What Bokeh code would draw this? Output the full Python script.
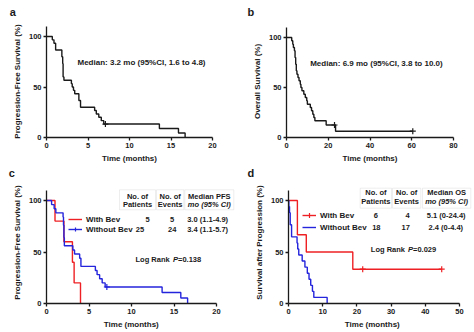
from bokeh.plotting import figure
from bokeh.models import Range1d, FixedTicker, Label, BoxAnnotation, Legend, LegendItem, ColumnDataSource, Title
from bokeh.layouts import column, row
from bokeh.embed import file_html
from bokeh.resources import INLINE

FONT = "Liberation Sans"
RED = "#ee2024"
BLUE = "#2424dc"
INK = "#1a1a1a"
GRAYBOX = "#c8c8c8"

# ---------------- data ----------------
# a: progression-free survival, all patients
a_time = [0, 0.7, 0.9, 1.1, 1.85, 1.95, 2.0, 2.1, 3.0, 3.1, 3.25, 3.4, 3.9, 4.1, 5.8, 6.0, 6.3, 6.6, 6.9, 13.6, 15.9, 16.7]
a_surv = [100, 96.7, 93.3, 86.7, 80, 73.3, 60, 56.7, 53.3, 50, 46.7, 43.3, 36.7, 30, 26.7, 23.3, 20, 16.7, 13.3, 8.9, 4.4, 0]
a_cens_t = [7.1]
a_cens_s = [13.3]

# b: overall survival, all patients
b_time = [0, 2.5, 3.0, 3.3, 3.8, 4.1, 4.4, 4.7, 5.0, 5.5, 6.0, 6.6, 6.9, 7.4, 8.3, 9.0, 9.7, 10.0, 11.4, 12.0, 12.6, 13.1, 13.6, 19.0, 23.5, 60.5]
b_surv = [100, 96.7, 93.3, 90, 86.7, 80, 73.3, 66.7, 63.3, 60, 56.7, 53.3, 50, 46.7, 43.3, 40, 36.7, 33.3, 30, 26.7, 23.3, 20, 16.7, 12.5, 6.3, 6.3]
b_cens_t = [23.0, 60.5]
b_cens_s = [12.5, 6.3]

# c: PFS by bevacizumab
c_red_time = [0, 1.0, 2.05, 3.05, 3.25, 4.0]
c_red_surv = [100, 80, 60, 40, 20, 0]
c_red_cens_t = []
c_red_cens_s = []
c_blue_time = [0, 0.6, 0.9, 1.1, 1.95, 2.0, 2.05, 2.1, 3.1, 3.3, 3.9, 4.05, 5.75, 5.95, 6.25, 6.55, 6.9, 13.6, 15.8, 16.6]
c_blue_surv = [100, 96, 92, 88, 84, 76, 64, 56, 52, 48, 44, 36, 32, 28, 24, 20, 16, 10.7, 5.3, 0]
c_blue_cens_t = [7.1]
c_blue_cens_s = [16]

# d: survival after progression by bevacizumab
d_red_time = [0, 2.6, 5.2, 18.8, 44.8]
d_red_surv = [100, 66.7, 50, 33.3, 33.3]
d_red_cens_t = [21.7, 44.8]
d_red_cens_s = [33.3, 33.3]
d_blue_time = [0, 0.1, 0.3, 0.5, 0.9, 2.5, 2.7, 3.0, 4.0, 4.8, 5.5, 6.0, 6.5, 7.0, 7.4, 11.3]
d_blue_surv = [100, 94.1, 88.2, 76.5, 64.7, 58.8, 52.9, 47.1, 41.2, 35.3, 29.4, 23.5, 17.6, 11.8, 5.9, 0]
d_blue_cens_t = []
d_blue_cens_s = []

series_labels = ["With Bev", "Without Bev"]
c_table = [["5", "5", "3.0 (1.1-4.9)"], ["25", "24", "3.4 (1.1-5.7)"]]
d_table = [["6", "4", "5.1 (0-24.4)"], ["18", "17", "2.4 (0-4.4)"]]
c_pvalue = "=0.138"
d_pvalue = "=0.029"

W, H = 237, 166

# panel geometry (pixels inside each 237x166 panel):
# x0/x1 = pixel of x=0 / x=xmax (axis end), y0/y100 = pixel of y=0 / y=100, T = frame top,
# xlab = left edge of x title, letter = left edge of panel letter
GEO = {
    "a": dict(x0=46, x1=212, xmax=20, y0=137, y100=36, T=25, xticks=[0, 5, 10, 15, 20],
              xlab=101.5, letter=9.3),
    "b": dict(x0=49, x1=216, xmax=80, y0=137, y100=37, T=25, xticks=[0, 20, 40, 60, 80],
              xlab=105, letter=10),
    "c": dict(x0=46, x1=216, xmax=20, y0=137, y100=34, T=15, xticks=[0, 5, 10, 15, 20],
              xlab=103.3, letter=8.3),
    "d": dict(x0=51, x1=222, xmax=50, y0=137, y100=34, T=15, xticks=[0, 10, 20, 30, 40, 50],
              xlab=107.3, letter=10),
}
FRAME_RIGHT = 237
LETTER_H = 12.3   # approx. text height of the 11px panel letters


def make_fig(key, ytitle, letter):
    g = GEO[key]
    ymax = 100.0 * (g["y0"] - g["T"]) / (g["y0"] - g["y100"])
    xend = g["xmax"] * (FRAME_RIGHT - g["x0"]) / (g["x1"] - g["x0"])
    p = figure(width=W, height=H, x_range=Range1d(0, xend), y_range=Range1d(0, ymax),
               output_backend="svg", toolbar_location=None,
               min_border_left=g["x0"], min_border_right=W - FRAME_RIGHT,
               min_border_top=g["T"], min_border_bottom=H - g["y0"])
    p.outline_line_color = None
    p.grid.visible = False
    p.xaxis.ticker = FixedTicker(ticks=g["xticks"])
    p.yaxis.ticker = FixedTicker(ticks=[0, 50, 100])
    p.xaxis.bounds = (0, g["xmax"])
    p.yaxis.bounds = (0, 110)
    for ax in (p.xaxis[0], p.yaxis[0]):
        ax.axis_line_width = 1.3
        ax.axis_line_color = INK
        ax.major_tick_line_width = 1.3
        ax.major_tick_line_color = INK
        ax.major_tick_out = 3
        ax.major_tick_in = 0
        ax.minor_tick_out = 0
        ax.minor_tick_in = 0
        ax.major_label_text_font = FONT
        ax.major_label_text_font_style = "bold"
        ax.major_label_text_font_size = "7.5px"
        ax.major_label_text_color = INK
        ax.major_label_standoff = 2
        ax.axis_label_text_font = FONT
        ax.axis_label_text_font_style = "bold"
        ax.axis_label_text_font_size = "8px"
        ax.axis_label_text_color = INK
        ax.axis_label_standoff = 4
    p.yaxis.axis_label = ytitle
    # x title placed under the drawn axis (the frame runs further right than the axis)
    p.add_layout(Title(text="Time (months)", align="left", offset=g["xlab"] - g["x0"], standoff=3,
                       text_font=FONT, text_font_size="8px", text_font_style="bold",
                       text_color=INK), "below")
    p.add_layout(Title(text=letter, align="left", offset=g["letter"] - g["x0"],
                       standoff=max(g["T"] - 2 - LETTER_H, 0), vertical_align="top",
                       text_font=FONT, text_font_size="11px", text_font_style="bold",
                       text_color=INK), "above")
    return p


def to_data(key, px, py):
    g = GEO[key]
    x = (px - g["x0"]) / (g["x1"] - g["x0"]) * g["xmax"]
    y = (g["y0"] - py) / (g["y0"] - g["y100"]) * 100.0
    return x, y


def lab(p, key, px, py, text, size="7.5px", align="left", style="bold", baseline="middle", color=INK):
    x, y = to_data(key, px, py)
    p.add_layout(Label(x=x, y=y, text=text, text_font=FONT, text_font_size=size,
                       text_font_style=style, text_align=align, text_baseline=baseline,
                       text_color=color))


def box(p, key, px0, py0, px1, py1):
    x0, y0 = to_data(key, px0, py0)
    x1, y1 = to_data(key, px1, py1)
    p.add_layout(BoxAnnotation(left=x0, right=x1, top=y0, bottom=y1, fill_alpha=0,
                               line_color=GRAYBOX, line_width=1))


def km(p, t, s, ct, cs, color):
    r = p.step(x=t, y=s, mode="after", line_color=color, line_width=1.4)
    c = p.scatter(x="x", y="y", source=ColumnDataSource(dict(x=ct, y=cs)), marker="cross",
                  size=6, line_color=color, line_width=1.2)
    return r, c


# ---------------- panel a ----------------
pa = make_fig("a", "Progression-Free Survival (%)", "a")
km(pa, a_time, a_surv, a_cens_t, a_cens_s, INK)
lab(pa, "a", 77, 61.7, "Median: 3.2 mo (95%CI, 1.6 to 4.8)", size="8px")

# ---------------- panel b ----------------
pb = make_fig("b", "Overall Survival (%)", "b")
km(pb, b_time, b_surv, b_cens_t, b_cens_s, INK)
lab(pb, "b", 72.7, 62.7, "Median: 6.9 mo (95%CI, 3.8 to 10.0)", size="8px")


def table_panel(p, key, red, blue, table, boxes, hdr_y, row_y, cols, hdr3, pval, lr, leg_loc, leg_h):
    r1, c1 = km(p, *red, RED)
    r2, c2 = km(p, *blue, BLUE)
    for (bx0, bx1) in boxes:
        box(p, key, bx0, hdr_y[0], bx1, hdr_y[1])
    centers = [(b0 + b1) / 2 for (b0, b1) in boxes]
    lab(p, key, centers[0], hdr_y[2], "No. of", align="center")
    lab(p, key, centers[0], hdr_y[3], "Patients", align="center")
    lab(p, key, centers[1], hdr_y[2], "No. of", align="center")
    lab(p, key, centers[1], hdr_y[3], "Events", align="center")
    lab(p, key, centers[2], hdr_y[2], hdr3, align="center")
    lab(p, key, centers[2], hdr_y[3], "mo (95% CI)", align="center", style="bold italic")
    for i, vals in enumerate(table):
        lab(p, key, cols[i][0], row_y[i], vals[0], align="center")
        lab(p, key, cols[i][1], row_y[i], vals[1], align="center")
        lab(p, key, cols[i][2], row_y[i], vals[2], align="left")
    lab(p, key, lr[0], lr[3], "Log Rank")
    lab(p, key, lr[1], lr[3], "P", style="bold italic")
    lab(p, key, lr[2], lr[3], pval)
    leg = Legend(items=[LegendItem(label=series_labels[0], renderers=[r1, c1]),
                        LegendItem(label=series_labels[1], renderers=[r2, c2])],
                 location=leg_loc, orientation="vertical", padding=0, margin=0, spacing=0,
                 glyph_width=14, glyph_height=leg_h, label_height=leg_h, label_standoff=4,
                 label_text_font=FONT, label_text_font_size="8px", label_text_font_style="bold",
                 label_text_color=INK, border_line_color=None, background_fill_alpha=0)
    p.add_layout(leg)


# ---------------- panel c ----------------
pc = make_fig("c", "Progression-Free Survival (%)", "c")
table_panel(pc, "c",
            (c_red_time, c_red_surv, c_red_cens_t, c_red_cens_s),
            (c_blue_time, c_blue_surv, c_blue_cens_t, c_blue_cens_s),
            c_table,
            boxes=[(119, 155), (156, 183.3), (184.3, 233.3)],
            hdr_y=(23.3, 43.3, 29.5, 38.0),
            row_y=(53, 63.3),
            cols=[(147, 171.7, 186.7), (139.5, 171.7, 186.7)],
            hdr3="Median PFS", pval=c_pvalue,
            lr=(135, 172.5, 177.5, 92.7),
            leg_loc=(22, 69), leg_h=10)

# ---------------- panel d ----------------
pd_ = make_fig("d", "Survival after Progression (%)", "d")
table_panel(pd_, "d",
            (d_red_time, d_red_surv, d_red_cens_t, d_red_cens_s),
            (d_blue_time, d_blue_surv, d_blue_cens_t, d_blue_cens_s),
            d_table,
            boxes=[(122.7, 154), (155, 183.3), (185, 233.3)],
            hdr_y=(21.7, 41.7, 26.0, 34.7),
            row_y=(49.3, 61),
            cols=[(138.3, 170, 189.3), (138.8, 168.2, 191)],
            hdr3="Median OS", pval=d_pvalue,
            lr=(133.3, 170.5, 175.5, 82.7),
            leg_loc=(14, 70), leg_h=12)

layout = column(row(pa, pb, spacing=0), row(pc, pd_, spacing=0), spacing=0)
open("out.html", "w").write(file_html(layout, INLINE))
